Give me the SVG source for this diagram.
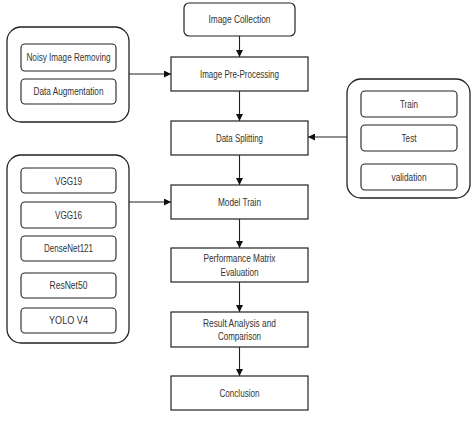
<svg xmlns="http://www.w3.org/2000/svg" width="474" height="435" viewBox="0 0 474 435">
<style>
.box{fill:#fff;stroke:#222;stroke-width:1.2}
.grp{fill:#fff;stroke:#222;stroke-width:1.3}
.in{fill:#fff;stroke:#222;stroke-width:1.1}
text{font-family:"Liberation Sans",Arial,sans-serif;font-size:10.5px;fill:#333;text-anchor:middle}
.cn{fill:none;stroke:#222;stroke-width:1.1}
</style>
<defs>
<marker id="ah" viewBox="0 0 10 10" refX="10" refY="5" markerWidth="7" markerHeight="7" markerUnits="userSpaceOnUse" orient="auto">
<path d="M0,0 L10,5 L0,10 z" fill="#111"/>
</marker>
</defs>
<rect x="0" y="0" width="474" height="435" fill="#fff"/>
<g id="connectors">
<line class="cn" x1="239.5" y1="36" x2="239.5" y2="57" marker-end="url(#ah)"/>
<line class="cn" x1="239.5" y1="91" x2="239.5" y2="121" marker-end="url(#ah)"/>
<line class="cn" x1="239.5" y1="155" x2="239.5" y2="185" marker-end="url(#ah)"/>
<line class="cn" x1="239.5" y1="219" x2="239.5" y2="248" marker-end="url(#ah)"/>
<line class="cn" x1="239.5" y1="282" x2="239.5" y2="312" marker-end="url(#ah)"/>
<line class="cn" x1="239.5" y1="347" x2="239.5" y2="376" marker-end="url(#ah)"/>
<line class="cn" x1="129" y1="74" x2="171" y2="74" marker-end="url(#ah)"/>
<line class="cn" x1="347" y1="137" x2="308" y2="137" marker-end="url(#ah)"/>
<line class="cn" x1="129" y1="202" x2="171" y2="202" marker-end="url(#ah)"/>
</g>
<g id="image-collection">
<rect class="box" x="184" y="3" width="111" height="33" rx="5"/>
<text x="239.5" y="23" textLength="62" lengthAdjust="spacingAndGlyphs">Image Collection</text>
</g>
<g id="image-preprocessing">
<rect class="box" x="171" y="57" width="137" height="34"/>
<text x="239.5" y="77.5" textLength="79" lengthAdjust="spacingAndGlyphs">Image Pre-Processing</text>
</g>
<g id="data-splitting">
<rect class="box" x="171" y="121" width="137" height="34"/>
<text x="239.5" y="141.5" textLength="47" lengthAdjust="spacingAndGlyphs">Data Splitting</text>
</g>
<g id="model-train">
<rect class="box" x="171" y="185" width="137" height="34"/>
<text x="239.5" y="205.5" textLength="43" lengthAdjust="spacingAndGlyphs">Model Train</text>
</g>
<g id="performance">
<rect class="box" x="171" y="248" width="137" height="34"/>
<text x="239.5" y="261.5" textLength="72" lengthAdjust="spacingAndGlyphs">Performance Matrix</text>
<text x="239.5" y="275.5" textLength="38" lengthAdjust="spacingAndGlyphs">Evaluation</text>
</g>
<g id="result-analysis">
<rect class="box" x="171" y="312" width="137" height="35"/>
<text x="239.5" y="326.5" textLength="73" lengthAdjust="spacingAndGlyphs">Result Analysis and</text>
<text x="239.5" y="340" textLength="43" lengthAdjust="spacingAndGlyphs">Comparison</text>
</g>
<g id="conclusion">
<rect class="box" x="171" y="376" width="137" height="34"/>
<text x="239.5" y="396.5" textLength="40" lengthAdjust="spacingAndGlyphs">Conclusion</text>
</g>
<g id="preprocessing-group">
<rect class="grp" x="7" y="27" width="122" height="95" rx="14"/>
<g id="noisy-removing">
<rect class="in" x="21" y="44" width="95" height="27" rx="4"/>
<text x="68.5" y="61" textLength="84" lengthAdjust="spacingAndGlyphs">Noisy Image Removing</text>
</g>
<g id="data-augmentation">
<rect class="in" x="21" y="79" width="95" height="25" rx="4"/>
<text x="68.5" y="95" textLength="70" lengthAdjust="spacingAndGlyphs">Data Augmentation</text>
</g>
</g>
<g id="split-group">
<rect class="grp" x="347" y="79" width="123" height="119" rx="14"/>
<g id="train">
<rect class="in" x="361" y="91" width="96" height="26" rx="4"/>
<text x="409" y="107.5" textLength="18" lengthAdjust="spacingAndGlyphs">Train</text>
</g>
<g id="test">
<rect class="in" x="361" y="125" width="96" height="26" rx="4"/>
<text x="409" y="141.5" textLength="15" lengthAdjust="spacingAndGlyphs">Test</text>
</g>
<g id="validation">
<rect class="in" x="361" y="164" width="96" height="26" rx="4"/>
<text x="409" y="180.5" textLength="35" lengthAdjust="spacingAndGlyphs">validation</text>
</g>
</g>
<g id="models-group">
<rect class="grp" x="7" y="155" width="122" height="188" rx="14"/>
<g id="vgg19">
<rect class="in" x="21" y="168" width="95" height="25" rx="4"/>
<text x="68.5" y="184.5" textLength="27" lengthAdjust="spacingAndGlyphs">VGG19</text>
</g>
<g id="vgg16">
<rect class="in" x="21" y="202" width="95" height="26" rx="4"/>
<text x="68.5" y="218.5" textLength="27" lengthAdjust="spacingAndGlyphs">VGG16</text>
</g>
<g id="densenet121">
<rect class="in" x="21" y="236" width="95" height="25" rx="4"/>
<text x="68.5" y="252" textLength="49" lengthAdjust="spacingAndGlyphs">DenseNet121</text>
</g>
<g id="resnet50">
<rect class="in" x="21" y="273" width="95" height="25" rx="4"/>
<text x="68.5" y="289" textLength="38" lengthAdjust="spacingAndGlyphs">ResNet50</text>
</g>
<g id="yolov4">
<rect class="in" x="21" y="308" width="95" height="25" rx="4"/>
<text x="68.5" y="324" textLength="39" lengthAdjust="spacingAndGlyphs">YOLO V4</text>
</g>
</g>
</svg>
